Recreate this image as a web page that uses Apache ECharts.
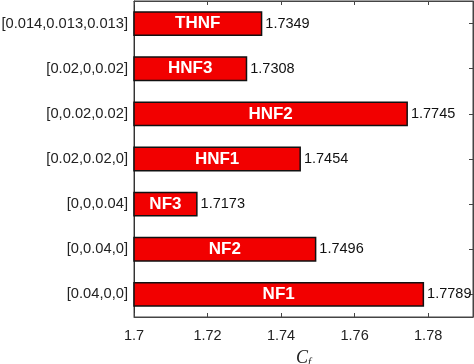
<!DOCTYPE html>
<html><head><meta charset="utf-8">
<script src="https://cdn.jsdelivr.net/npm/echarts@6/dist/echarts.min.js"></script>
<style>html,body{margin:0;padding:0;background:#fff}#c{width:474px;height:364px}</style>
</head><body><div id="c"></div>
<script>
const categories = ['[0.04,0,0]','[0,0.04,0]','[0,0,0.04]','[0.02,0.02,0]','[0,0.02,0.02]','[0.02,0,0.02]','[0.014,0.013,0.013]'];
const barNames = ['NF1','NF2','NF3','HNF1','HNF2','HNF3','THNF'];
const values = [1.7789,1.7496,1.7173,1.7454,1.7745,1.7308,1.7349];
const xTicks = [1.7,1.72,1.74,1.76,1.78];

const font = "'Liberation Sans', Arial, Helvetica, sans-serif";
const serif = "'Liberation Serif','DejaVu Serif',serif";
const chart = echarts.init(document.getElementById('c'), null, {renderer:'canvas'});
const xMin = 1.7, xMax = 1.7922;
chart.setOption({
  animation:false,
  grid:{left:134,right:1,top:1,bottom:47,show:true,borderColor:'#444',borderWidth:1,containLabel:false,outerBoundsMode:'none'},
  xAxis:[{
    type:'value', min:xMin, max:xMax, position:'bottom',
    axisLine:{show:true,lineStyle:{color:'#444',width:1}},
    axisTick:{show:true,inside:true,length:4,customValues:xTicks,lineStyle:{color:'#444'}},
    axisLabel:{customValues:xTicks,fontFamily:font,fontSize:14.5,color:'#222',margin:11,formatter:v=>String(+v.toFixed(2))},
    splitLine:{show:false},
    name:'{c|C}{s|f}', nameLocation:'middle', nameGap:31,
    nameTextStyle:{rich:{c:{fontFamily:serif,fontStyle:'italic',fontSize:18,color:'#222',lineHeight:18},
                         s:{fontFamily:serif,fontStyle:'italic',fontSize:11,color:'#222',lineHeight:18,padding:[9,0,0,0]}}}
  },{
    type:'value', min:xMin, max:xMax, position:'top',
    axisLine:{show:true,lineStyle:{color:'#444'}},
    axisTick:{show:true,inside:true,length:4,customValues:xTicks,lineStyle:{color:'#444'}},
    axisLabel:{show:false}, splitLine:{show:false}
  }],
  yAxis:[{
    type:'category', data:categories, position:'left',
    axisLine:{show:true,lineStyle:{color:'#333'}},
    axisTick:{show:true,inside:true,alignWithLabel:true,length:4,lineStyle:{color:'#444'}},
    axisLabel:{fontFamily:font,fontSize:14.7,color:'#222',margin:6}
  },{
    type:'category', data:categories, position:'right',
    axisLine:{show:true,lineStyle:{color:'#444'}},
    axisTick:{show:true,inside:true,alignWithLabel:true,length:4,lineStyle:{color:'#444'}},
    axisLabel:{show:false}
  }],
  series:[{
    type:'bar', xAxisIndex:0, yAxisIndex:0,
    data:values.map(v=>v),
    barWidth:'55%',
    itemStyle:{color:'#f20000',borderColor:'#111',borderWidth:1.5},
    label:{show:true,position:'inside',formatter:p=>barNames[p.dataIndex],fontFamily:font,fontWeight:'bold',fontSize:17,color:'#fff'},
    z:3
  },{
    type:'bar', xAxisIndex:0, yAxisIndex:0,
    data:values, barWidth:'55%', barGap:'-100%',
    itemStyle:{color:'transparent'},
    label:{show:true,position:'right',distance:3,formatter:p=>p.value.toFixed(4),fontFamily:font,fontSize:14.5,color:'#111'},
    silent:true, z:4
  }]
});
</script></body></html>
